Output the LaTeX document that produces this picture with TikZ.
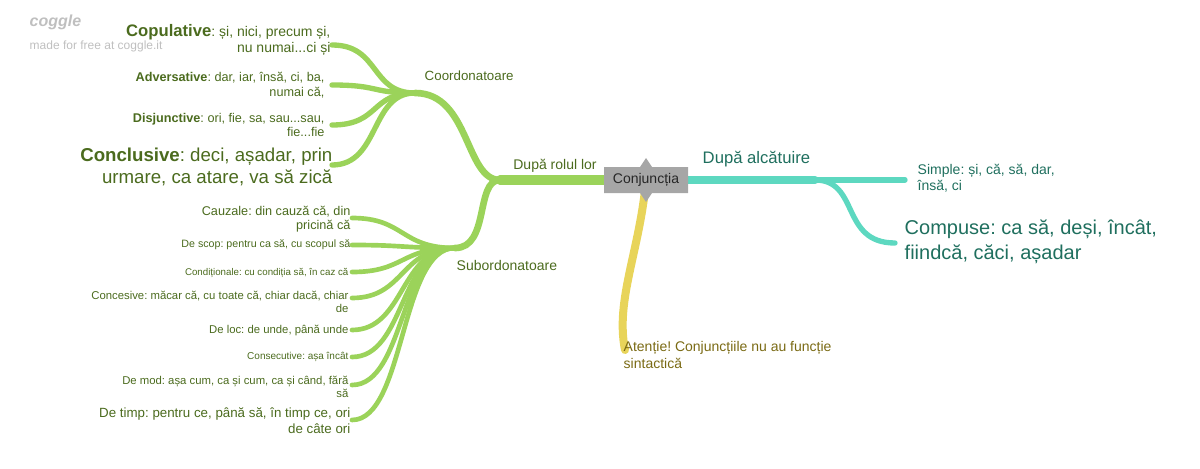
\documentclass[tikz,border=0pt]{standalone}
\usepackage{fontspec}
\setmainfont{Liberation Sans}
\frenchspacing
\definecolor{gr}{HTML}{9BD35A}
\definecolor{grt}{HTML}{4B6B1E}
\definecolor{te}{HTML}{5DD8C0}
\definecolor{tet}{HTML}{1F6F5E}
\definecolor{ye}{HTML}{E8D45A}
\definecolor{yet}{HTML}{7A6A14}
\begin{document}
\begin{tikzpicture}[x=0.75pt,y=-0.75pt,
 lf/.style={anchor=east,align=right,text=grt,font=\fontsize{9.5}{11}\selectfont,inner sep=1pt},
 gl/.style={draw=gr,line cap=round},
 tl/.style={draw=te,line cap=round}]
\useasboundingbox (0,0) rectangle (1200,468);
\node[text=black!25,font=\bfseries\itshape\fontsize{12}{13}\selectfont,anchor=west] (logo) at (25,22) {coggle};
\node[text=black!25,font=\fontsize{9}{10}\selectfont,anchor=west] (made) at (25,46) {made for free at coggle.it};
% centre
\coordinate (c) at (646,180);
% green main
\draw[gl,line width=7pt] (c) -- (500,180) coordinate (r);
\node[text=grt,font=\fontsize{10.5}{12}\selectfont,anchor=south] (rol) at (555,177) {După rolul lor};
\coordinate (co) at (415,93);
\coordinate (so) at (455,248);
\draw[gl,line width=5pt] (r) .. controls (465,180) and (470,93) .. (co);
\draw[gl,line width=5pt] (r) .. controls (475,180) and (490,248) .. (so);
\node[text=grt,font=\fontsize{10}{12}\selectfont,anchor=west] (cot) at (420,76) {Coordonatoare};
\node[text=grt,font=\fontsize{10.5}{12}\selectfont,anchor=west] (sot) at (452,265) {Subordonatoare};
% coordonatoare leaves
\foreach \y/\n in {45/a1,85/a2,125/a3,165/a4}{
 \coordinate (\n) at (332,\y);
 \draw[gl,line width=4pt] (co) .. controls (370,93) and (380,\y) .. (\n);}
\node[lf,font=\fontsize{10.5}{12}\selectfont] (t1) at (332,40) {{\fontsize{12.5}{13}\selectfont\bfseries Copulative}: și, nici, precum și,\\nu numai...ci și};
\node[lf] (t2) at (326,85) {{\bfseries Adversative}: dar, iar, însă, ci, ba,\\numai că,};
\node[lf] (t3) at (326,125) {{\bfseries Disjunctive}: ori, fie, sa, sau...sau,\\fie...fie};
\node[lf,font=\fontsize{14}{17}\selectfont] (t4) at (334,167) {{\bfseries Conclusive}: deci, așadar, prin\\urmare, ca atare, va să zică};
% subordonatoare leaves
\foreach \y/\n in {218/b1,245/b2,272/b3,298/b4,330/b5,357/b6,385/b7,420/b8}{
 \coordinate (\n) at (352,\y);
 \draw[gl,line width=3.5pt] (so) .. controls (400,248) and (405,\y) .. (\n);}
\node[lf] (s1) at (352,219) {Cauzale: din cauză că, din\\pricină că};
\node[lf,font=\fontsize{8}{9}\selectfont] (s2) at (352,245) {De scop: pentru ca să, cu scopul să};
\node[lf,font=\fontsize{7.3}{9}\selectfont] (s3) at (350,273) {Condiționale: cu condiția să, în caz că};
\node[lf,font=\fontsize{8.5}{10}\selectfont] (s4) at (350,302) {Concesive: măcar că, cu toate că, chiar dacă, chiar\\de};
\node[lf,font=\fontsize{8.5}{10}\selectfont] (s5) at (350,330) {De loc: de unde, până unde};
\node[lf,font=\fontsize{7.5}{9}\selectfont] (s6) at (350,357) {Consecutive: așa încât};
\node[lf,font=\fontsize{8.5}{10}\selectfont] (s7) at (350,387) {De mod: așa cum, ca și cum, ca și când, fără\\să};
\node[lf,font=\fontsize{10}{12}\selectfont] (s8) at (352,421) {De timp: pentru ce, până să, în timp ce, ori\\de câte ori};
% teal
\draw[tl,line width=6pt] (c) -- (815,180) coordinate (al);
\node[text=tet,font=\fontsize{12.5}{14}\selectfont,anchor=south west] (alt) at (698,172) {După alcătuire};
\draw[tl,line width=4pt] (al) -- (905,180) coordinate (si);
\draw[tl,line width=4pt] (al) .. controls (860,180) and (840,243) .. (895,243) coordinate (cp);
\node[text=tet,font=\fontsize{10.5}{12.5}\selectfont,anchor=north west,align=left] (sit) at (913,159) {Simple: și, că, să, dar,\\însă, ci};
\node[text=tet,font=\fontsize{15}{19}\selectfont,anchor=west,align=left] (cpt) at (900,242) {Compuse: ca să, deși, încât,\\fiindcă, căci, așadar};
% yellow
\draw[draw=ye,line width=6pt,line cap=round] (c) .. controls (640,250) and (615,300) .. (625,350) coordinate (at);
\node[text=yet,font=\fontsize{10.5}{12.5}\selectfont,anchor=west,align=left] (att) at (619,355) {Atenție! Conjuncțiile nu au funcție\\sintactică};
% centre node
\fill[black!35] (604,167) -- (640,167) -- (646,158) -- (652,167) -- (688,167) -- (688,193) -- (652,193) -- (646,202) -- (640,193) -- (604,193) -- cycle;
\node[font=\fontsize{10.5}{12}\selectfont,text=black!85] (cn) at (c) {Conjuncția};
\end{tikzpicture}
\end{document}
